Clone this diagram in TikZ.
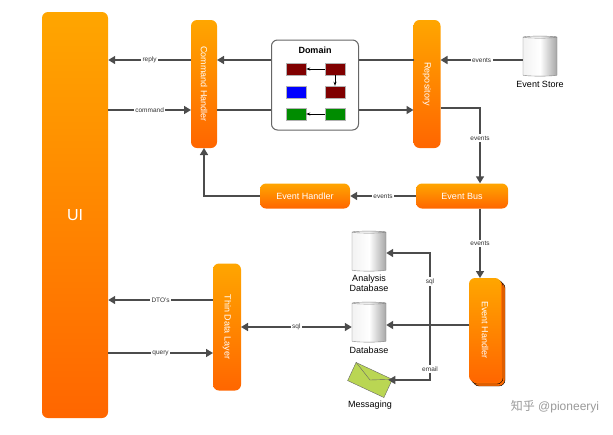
\documentclass[tikz,border=0pt]{standalone}
\usepackage{fontspec}
\setmainfont{Liberation Sans}
\newfontfamily\cjk{Noto Sans CJK SC}
\usetikzlibrary{shapes.geometric,arrows.meta,shadows,positioning}
\begin{document}
\begin{tikzpicture}[x=1pt,y=-1pt,
  comp/.style={rounded corners=6pt,top color=orange!70!yellow,bottom color=orange!80!red,draw=none,text=white,font=\fontsize{9}{10}\selectfont,inner sep=0pt},
  vcomp/.style={comp,rotate=-90},
  link/.style={draw=black!70,line width=1.6pt,-{Triangle[length=7pt,width=8pt]}},
  plain/.style={draw=black!70,line width=1.6pt},
  lbl/.style={fill=white,font=\fontsize{6.5}{7}\selectfont,inner sep=1.5pt,text=black!80},
  db/.style={cylinder,shape border rotate=90,aspect=0.3,minimum width=34pt,minimum height=40pt,draw=black!50,left color=black!5,right color=black!35,middle color=white},
  captxt/.style={font=\fontsize{9}{10}\selectfont,align=center},
  sq/.style={minimum width=20pt,minimum height=12pt,inner sep=0pt,draw=black!30}
]
\useasboundingbox (0,0) rectangle (613,434);
% components
\node[comp,minimum width=66pt,minimum height=406pt,font=\fontsize{16}{18}\selectfont] (ui) at (75,215) {UI};
\node[vcomp,minimum width=128pt,minimum height=26pt] (ch) at (204,84) {Command Handler};
\node[vcomp,minimum width=128pt,minimum height=27pt] (repo) at (427,84) {Repository};
\node[comp,minimum width=92pt,minimum height=25pt] (bus) at (462,196) {Event Bus};
\node[comp,minimum width=90pt,minimum height=25pt] (eh) at (305,196) {Event Handler};
\node[vcomp,minimum width=127pt,minimum height=28pt] (tdl) at (227,327) {Thin Data Layer};
\node[vcomp,minimum width=104pt,minimum height=32pt,double copy shadow={shadow xshift=2pt,shadow yshift=-2pt,fill=orange!85!red}] (veh) at (485,330) {Event Handler};
% store
\node[db] (store) at (540,57) {};
\node[captxt,below=1pt of store] (storel) {Event Store};
\node[db] (adb) at (369,252) {};
\node[captxt,below=0pt of adb] (adbl) {Analysis\\Database};
\node[db] (dbs) at (369,323) {};
\node[captxt,below=1pt of dbs] (dbsl) {Database};
\node[rotate=-25,minimum width=40pt,minimum height=20pt,fill=yellow!60!green!80!olive!70,draw=black!60,inner sep=0pt] (msg) at (370,380) {};
\draw[black!60] (msg.north west) -- (msg.center) -- (msg.north east);
\node[captxt] (msgl) at (370,405) {Messaging};
% connectors top
\draw[plain] ([xshift=-13.5pt]repo.center |- 0,60) -- (359,60);
\draw[link] (359,60) -- ([xshift=13pt]ch.center |- 0,60);
\draw[link] ([xshift=13pt]ch.center |- 0,110) -- ([xshift=-13.5pt]repo.center |- 0,110);
% domain
\node[draw=black!60,line width=1pt,fill=white,rounded corners=6pt,minimum width=87pt,minimum height=90pt] (dom) at (315,85) {};
\node[font=\bfseries\fontsize{9}{10}\selectfont] (domt) at (315,50) {Domain};
\node[sq,fill=red!50!black] (a1) at (296,69) {};
\node[sq,fill=red!50!black] (a2) at (335,69) {};
\node[sq,fill=blue] (b1) at (296,92) {};
\node[sq,fill=red!50!black] (b2) at (335,92) {};
\node[sq,fill=green!55!black] (c1) at (296,114) {};
\node[sq,fill=green!55!black] (c2) at (335,114) {};
\draw[-{Stealth[length=4pt]},thick] (a2) -- (a1);
\draw[-{Stealth[length=4pt]},thick] (a2) -- (b2);
\draw[-{Stealth[length=4pt]},thick] (c2) -- (c1);
% UI links
\draw[link] ([xshift=-13pt]ch.center |- 0,60) -- node[lbl]{reply} (ui.east |- 0,60);
\draw[link] (ui.east |- 0,110) -- node[lbl]{command} ([xshift=-13pt]ch.center |- 0,110);
\draw[link] ([xshift=-14pt]tdl.center |- 0,300) -- node[lbl]{DTO's} (ui.east |- 0,300);
\draw[link] (ui.east |- 0,353) -- node[lbl]{query} ([xshift=-14pt]tdl.center |- 0,353);
% events
\draw[link] (store.west |- 0,60) -- node[lbl]{events} ([xshift=13.5pt]repo.center |- 0,60);
\draw[link] ([xshift=13.5pt]repo.center |- 0,108) -| node[lbl,pos=0.7]{events} (bus.north -| 480,0);
\draw[link] (bus) -- node[lbl]{events} (eh);
\draw[link] (eh.west) -| ([yshift=-64pt]ch.center);
\draw[link] (bus.south -| 480,0) -- node[lbl]{events} ([yshift=52pt]veh.center -| 480,0);
\draw[link,{Triangle[length=7pt,width=8pt]}-{Triangle[length=7pt,width=8pt]}] ([xshift=14pt]tdl.center |- 0,327) -- node[lbl]{sql} (dbs.west |- 0,327);
\draw[link,line width=2.2pt] ([xshift=-16pt]veh.center |- 0,325) -- (dbs.east |- 0,325);
\coordinate (j) at (430,325);
\draw[link] (j) |- node[lbl,pos=0.3]{sql} (adb.east |- 0,253);
\draw[link] (j) |- node[lbl,pos=0.4]{email} (msg.east |- 0,380);
\node[text=black!40,font=\fontsize{12}{14}\selectfont] (wm) at (555,407) {{\cjk 知乎} @pioneeryi};
\end{tikzpicture}
\end{document}
